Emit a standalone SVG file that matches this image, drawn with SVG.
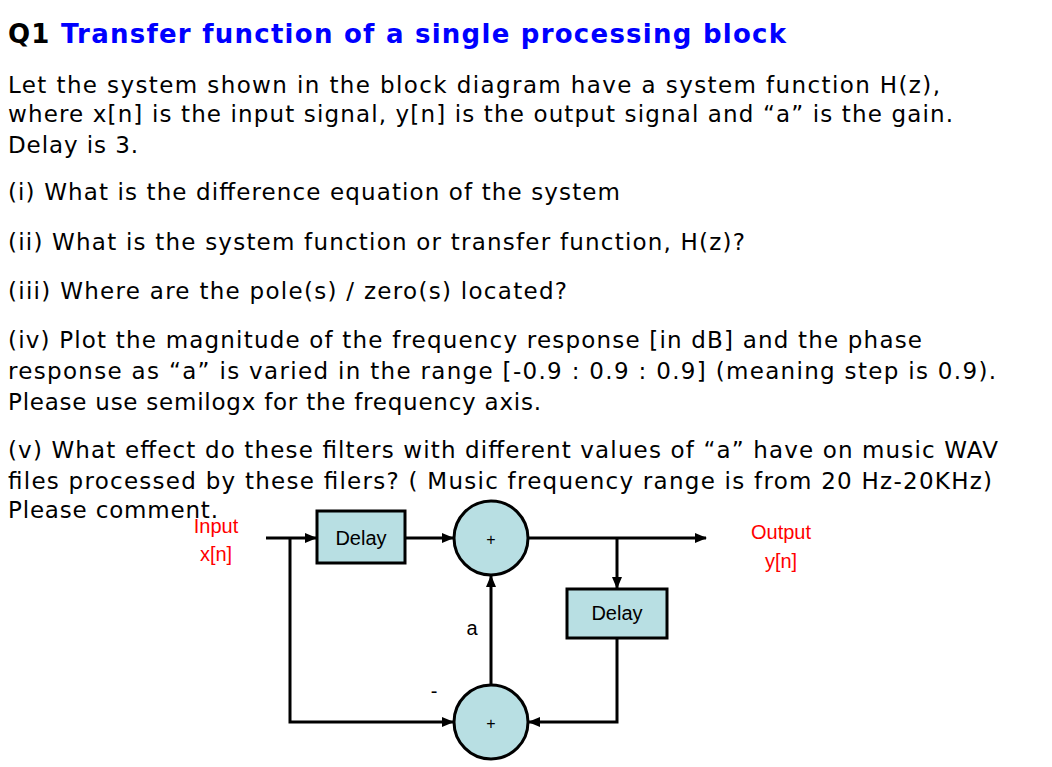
<svg xmlns="http://www.w3.org/2000/svg" width="1052" height="767" viewBox="0 0 1052 767">
<defs>
<marker id="ah" markerWidth="12" markerHeight="10" refX="11" refY="5" orient="auto" markerUnits="userSpaceOnUse"><path d="M0,0 L12,5 L0,10 Z" fill="#000"/></marker>
<style>
.t{font-family:"DejaVu Sans",Verdana,sans-serif;font-size:23px;fill:#000}
.d{font-family:"Liberation Sans",Arial,sans-serif;font-size:20px;fill:#000}
.r{font-family:"Liberation Sans",Arial,sans-serif;font-size:20px;fill:#ff0000}
.box{fill:#b8dfe3;stroke:#000;stroke-width:3}
.ln{fill:none;stroke:#000;stroke-width:3}
</style>
</defs>
<rect width="1052" height="767" fill="#fff"/>
<text x="8" y="43" textLength="778" lengthAdjust="spacing" style="font-family:'DejaVu Sans',Verdana,sans-serif;font-size:26px;font-weight:bold"><tspan fill="#000">Q1 </tspan><tspan fill="#0000ff">Transfer function of a single processing block</tspan></text>
<text class="t" x="8" y="93" textLength="932" lengthAdjust="spacing">Let the system shown in the block diagram have a system function H(z),</text>
<text class="t" x="8" y="122" textLength="945" lengthAdjust="spacing">where x[n] is the input signal, y[n] is the output signal and “a” is the gain.</text>
<text class="t" x="8" y="153" textLength="130" lengthAdjust="spacing">Delay is 3.</text>
<text class="t" x="8" y="200" textLength="612" lengthAdjust="spacing">(i) What is the difference equation of the system</text>
<text class="t" x="8" y="250" textLength="737" lengthAdjust="spacing">(ii) What is the system function or transfer function, H(z)?</text>
<text class="t" x="8" y="299" textLength="559" lengthAdjust="spacing">(iii) Where are the pole(s) / zero(s) located?</text>
<text class="t" x="8" y="348" textLength="914" lengthAdjust="spacing">(iv) Plot the magnitude of the frequency response  [in dB] and the phase</text>
<text class="t" x="8" y="379" textLength="988" lengthAdjust="spacing">response as “a” is varied in the range [-0.9 : 0.9 : 0.9] (meaning step is 0.9).</text>
<text class="t" x="8" y="410" textLength="533" lengthAdjust="spacing">Please use semilogx for the frequency axis.</text>
<text class="t" x="8" y="458" textLength="990" lengthAdjust="spacing">(v) What effect do these filters with different values of “a” have on music WAV</text>
<text class="t" x="8" y="489" textLength="984" lengthAdjust="spacing">files processed by these filers? ( Music frequency range is from 20 Hz-20KHz)</text>
<text class="t" x="8" y="518" textLength="210" lengthAdjust="spacing">Please comment.</text>
<g id="connectors">
<path class="ln" d="M266,538 H316" marker-end="url(#ah)"/>
<path class="ln" d="M290,538 V722 H453" marker-end="url(#ah)"/>
<path class="ln" d="M405,538 H453" marker-end="url(#ah)"/>
<path class="ln" d="M528,538 H706" marker-end="url(#ah)"/>
<path class="ln" d="M617,538 V588" marker-end="url(#ah)"/>
<path class="ln" d="M617,637 V722 H529" marker-end="url(#ah)"/>
<path class="ln" d="M491,685 V576" marker-end="url(#ah)"/>
</g>
<g id="input"><text class="r" x="216" y="533" text-anchor="middle">Input</text><text class="r" x="216" y="561" text-anchor="middle">x[n]</text></g>
<g id="output"><text class="r" x="781" y="539" text-anchor="middle">Output</text><text class="r" x="781" y="568" text-anchor="middle">y[n]</text></g>
<g id="delay1"><rect class="box" x="317" y="511" width="88" height="52"/><text class="d" x="361" y="545" text-anchor="middle">Delay</text></g>
<g id="sum1"><circle class="box" cx="491" cy="538" r="37"/><text class="d" x="491" y="545" text-anchor="middle" style="font-size:16px">+</text></g>
<g id="delay2"><rect class="box" x="567" y="589" width="100" height="49"/><text class="d" x="617" y="620" text-anchor="middle">Delay</text></g>
<g id="sum2"><circle class="box" cx="491" cy="722" r="37"/><text class="d" x="491" y="729" text-anchor="middle" style="font-size:16px">+</text></g>
<text class="d" x="472" y="635" text-anchor="middle">a</text>
<text class="d" x="434" y="698" text-anchor="middle">-</text>
</svg>
